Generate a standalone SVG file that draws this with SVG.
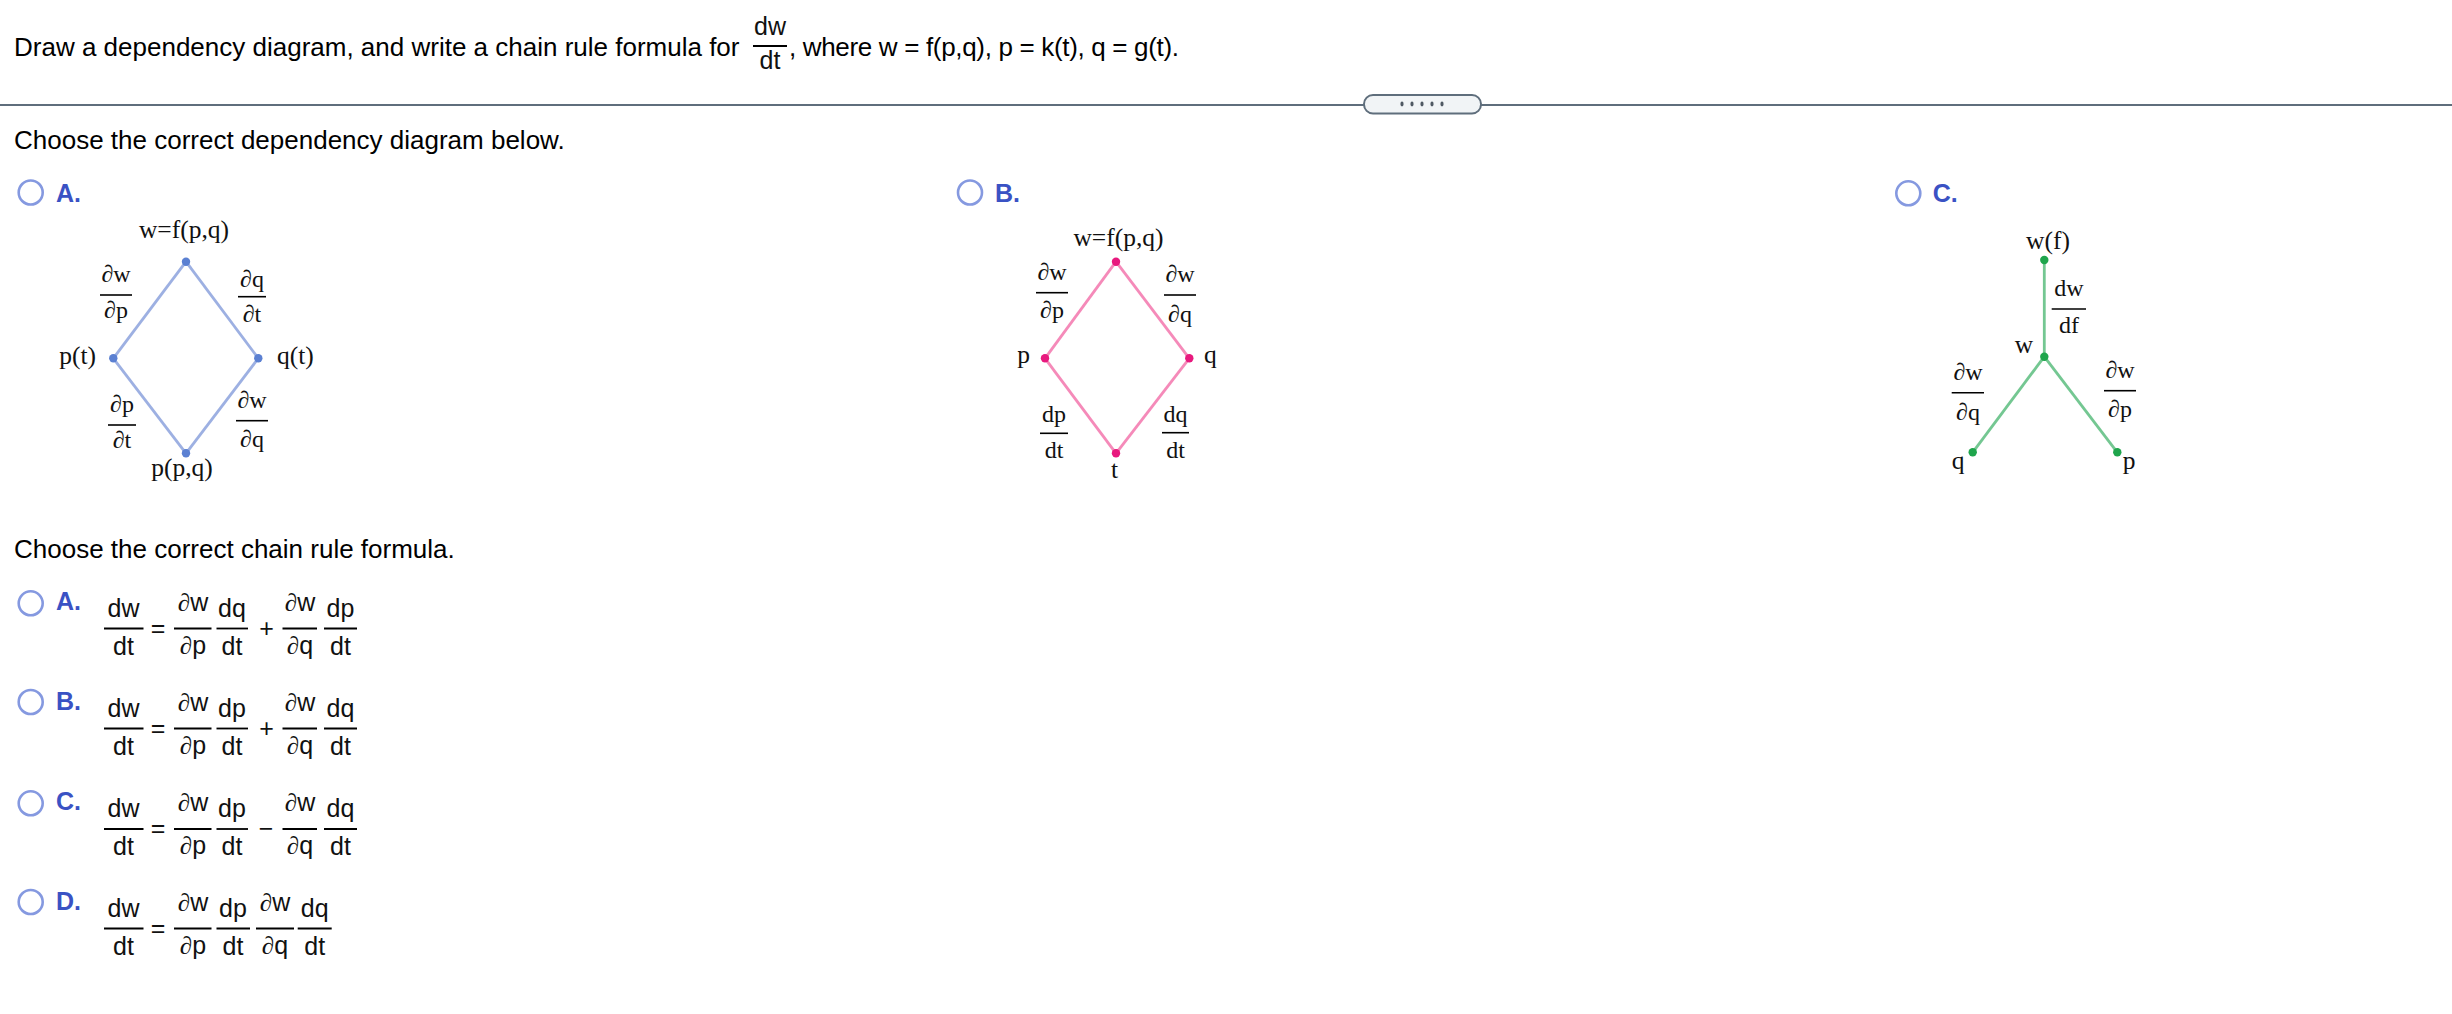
<svg xmlns="http://www.w3.org/2000/svg" width="2452" height="1014" viewBox="0 0 2452 1014">
<style>
.q{font-family:"Liberation Sans",Arial,sans-serif;font-size:26px;fill:#000}
.f{font-family:"Liberation Sans",Arial,sans-serif;font-size:25px;fill:#111;text-anchor:middle}
.pd{font-family:"Liberation Serif","DejaVu Serif",serif;font-style:italic}
.lab{font-family:"Liberation Sans",Arial,sans-serif;font-size:25px;font-weight:bold;fill:#3a52c4}
.radio{fill:#fff;stroke:#8599e0;stroke-width:2.6}
.s{font-family:"Liberation Serif","Times New Roman",serif;font-size:25.5px;fill:#111}
.sm{font-family:"Liberation Serif","Times New Roman",serif;font-size:24px;fill:#111;text-anchor:middle}
.bar{stroke:#000;stroke-width:1.8}
.sbar{stroke:#000;stroke-width:1.6}
.eA{stroke:#9db0e2;stroke-width:2.8;fill:none}
.nA{fill:#5b80d2}
.eB{stroke:#f58ab9;stroke-width:2.8;fill:none}
.nB{fill:#e8197e}
.eC{stroke:#74c792;stroke-width:2.8;fill:none}
.nC{fill:#1fa54c}
</style>

<!-- Question header -->
<g id="question">
  <text class="q" x="14" y="56">Draw a dependency diagram, and write a chain rule formula for</text>
  <text class="f" x="770" y="35">dw</text>
  <line class="bar" x1="753" y1="46" x2="787" y2="46"/>
  <text class="f" x="770" y="69">dt</text>
  <text class="q" x="789" y="56" textLength="390">, where w = f(p,q), p = k(t), q = g(t).</text>
</g>

<g id="separator">
  <line x1="0" y1="105" x2="2452" y2="105" stroke="#5f6e7c" stroke-width="2"/>
  <rect x="1364" y="95" width="117" height="18.5" rx="9" ry="9" fill="#f1f4f6" stroke="#5f6e7c" stroke-width="2"/>
  <g fill="#4f5963">
    <ellipse cx="1402" cy="104" rx="1.6" ry="2.4"/>
    <ellipse cx="1412" cy="104" rx="1.6" ry="2.4"/>
    <ellipse cx="1422" cy="104" rx="1.6" ry="2.4"/>
    <ellipse cx="1432" cy="104" rx="1.6" ry="2.4"/>
    <ellipse cx="1442" cy="104" rx="1.6" ry="2.4"/>
  </g>
</g>

<text class="q" x="14" y="149">Choose the correct dependency diagram below.</text>

<!-- Diagram option A -->
<g id="diagramA">
  <circle class="radio" cx="30.7" cy="192.5" r="12"/>
  <text class="lab" x="56" y="201.5">A.</text>
  <g id="A-connectors">
    <line class="eA" x1="186" y1="261.7" x2="113.3" y2="358.3"/>
    <line class="eA" x1="186" y1="261.7" x2="258.3" y2="358.3"/>
    <line class="eA" x1="113.3" y1="358.3" x2="186" y2="453.3"/>
    <line class="eA" x1="258.3" y1="358.3" x2="186" y2="453.3"/>
  </g>
  <g id="A-top"><circle class="nA" cx="186" cy="261.7" r="4.2"/><text class="s" x="184" y="238" text-anchor="middle">w=f(p,q)</text></g>
  <g id="A-left"><circle class="nA" cx="113.3" cy="358.3" r="4.2"/><text class="s" x="96" y="364" text-anchor="end">p(t)</text></g>
  <g id="A-right"><circle class="nA" cx="258.3" cy="358.3" r="4.2"/><text class="s" x="277" y="364">q(t)</text></g>
  <g id="A-bottom"><circle class="nA" cx="186" cy="453.3" r="4.2"/><text class="s" x="182" y="476" text-anchor="middle">p(p,q)</text></g>
  <g id="A-labels">
    <text class="sm" x="116" y="282">∂w</text><line class="sbar" x1="100" y1="295" x2="132" y2="295"/><text class="sm" x="116" y="318">∂p</text>
    <text class="sm" x="252" y="287">∂q</text><line class="sbar" x1="238" y1="296.7" x2="266" y2="296.7"/><text class="sm" x="252" y="322">∂t</text>
    <text class="sm" x="122" y="412">∂p</text><line class="sbar" x1="108" y1="425" x2="136" y2="425"/><text class="sm" x="122" y="448">∂t</text>
    <text class="sm" x="252" y="408">∂w</text><line class="sbar" x1="236" y1="420.7" x2="268" y2="420.7"/><text class="sm" x="252" y="447">∂q</text>
  </g>
</g>

<!-- Diagram option B -->
<g id="diagramB">
  <circle class="radio" cx="970" cy="192.5" r="12"/>
  <text class="lab" x="995" y="201.5">B.</text>
  <g id="B-connectors">
    <line class="eB" x1="1116" y1="261.7" x2="1045" y2="358.3"/>
    <line class="eB" x1="1116" y1="261.7" x2="1189.3" y2="358.3"/>
    <line class="eB" x1="1045" y1="358.3" x2="1116" y2="453.3"/>
    <line class="eB" x1="1189.3" y1="358.3" x2="1116" y2="453.3"/>
  </g>
  <g id="B-top"><circle class="nB" cx="1116" cy="261.7" r="4.2"/><text class="s" x="1118.5" y="246" text-anchor="middle">w=f(p,q)</text></g>
  <g id="B-left"><circle class="nB" cx="1045" cy="358.3" r="4.2"/><text class="s" x="1030" y="363" text-anchor="end">p</text></g>
  <g id="B-right"><circle class="nB" cx="1189.3" cy="358.3" r="4.2"/><text class="s" x="1204" y="363">q</text></g>
  <g id="B-bottom"><circle class="nB" cx="1116" cy="453.3" r="4.2"/><text class="s" x="1114.5" y="478" text-anchor="middle">t</text></g>
  <g id="B-labels">
    <text class="sm" x="1052" y="280">∂w</text><line class="sbar" x1="1036" y1="292.7" x2="1068" y2="292.7"/><text class="sm" x="1052" y="318">∂p</text>
    <text class="sm" x="1180" y="282">∂w</text><line class="sbar" x1="1164" y1="295" x2="1196" y2="295"/><text class="sm" x="1180" y="322">∂q</text>
    <text class="sm" x="1054" y="422">dp</text><line class="sbar" x1="1040" y1="433.3" x2="1068" y2="433.3"/><text class="sm" x="1054" y="458">dt</text>
    <text class="sm" x="1175.5" y="422">dq</text><line class="sbar" x1="1162" y1="432.7" x2="1189" y2="432.7"/><text class="sm" x="1175.5" y="458">dt</text>
  </g>
</g>

<!-- Diagram option C -->
<g id="diagramC">
  <circle class="radio" cx="1908.3" cy="193.3" r="12"/>
  <text class="lab" x="1932.7" y="201.5">C.</text>
  <g id="C-connectors">
    <line class="eC" x1="2044.3" y1="260" x2="2044.3" y2="356.7"/>
    <line class="eC" x1="2044.3" y1="356.7" x2="1972.7" y2="452.3"/>
    <line class="eC" x1="2044.3" y1="356.7" x2="2117.3" y2="452.3"/>
  </g>
  <g id="C-top"><circle class="nC" cx="2044.3" cy="260" r="4.2"/><text class="s" x="2048" y="249" text-anchor="middle">w(f)</text></g>
  <g id="C-mid"><circle class="nC" cx="2044.3" cy="356.7" r="4.2"/><text class="s" x="2024" y="353" text-anchor="middle">w</text></g>
  <g id="C-left"><circle class="nC" cx="1972.7" cy="452.3" r="4.2"/><text class="s" x="1958" y="469" text-anchor="middle">q</text></g>
  <g id="C-right"><circle class="nC" cx="2117.3" cy="452.3" r="4.2"/><text class="s" x="2129" y="469" text-anchor="middle">p</text></g>
  <g id="C-labels">
    <text class="sm" x="2069" y="296">dw</text><line class="sbar" x1="2051.7" y1="309" x2="2086" y2="309"/><text class="sm" x="2069" y="333">df</text>
    <text class="sm" x="1968" y="380">∂w</text><line class="sbar" x1="1951.7" y1="392.7" x2="1984" y2="392.7"/><text class="sm" x="1968" y="420">∂q</text>
    <text class="sm" x="2120" y="378">∂w</text><line class="sbar" x1="2104" y1="390.7" x2="2136" y2="390.7"/><text class="sm" x="2120" y="417">∂p</text>
  </g>
</g>

<text class="q" x="14" y="558">Choose the correct chain rule formula.</text>

<!-- Formula option A -->
<g id="formulaA">
  <circle class="radio" cx="30.7" cy="603.3" r="12"/>
  <text class="lab" x="56" y="610">A.</text>
  <text class="f" x="123.5" y="617">dw</text><line class="bar" x1="104" y1="628.5" x2="143.5" y2="628.5"/><text class="f" x="123.5" y="655">dt</text>
  <text class="f" x="158" y="637">=</text>
  <text class="f" x="193" y="611"><tspan class="pd">∂</tspan>w</text><line class="bar" x1="174" y1="628.5" x2="211.5" y2="628.5"/><text class="f" x="193" y="654"><tspan class="pd">∂</tspan>p</text>
  <text class="f" x="232" y="617">dq</text><line class="bar" x1="216.5" y1="628.5" x2="248" y2="628.5"/><text class="f" x="232" y="655">dt</text>
  <text class="f" x="266.5" y="637">+</text>
  <text class="f" x="300" y="611"><tspan class="pd">∂</tspan>w</text><line class="bar" x1="282.5" y1="628.5" x2="317" y2="628.5"/><text class="f" x="300" y="654"><tspan class="pd">∂</tspan>q</text>
  <text class="f" x="340.5" y="617">dp</text><line class="bar" x1="324" y1="628.5" x2="357" y2="628.5"/><text class="f" x="340.5" y="655">dt</text>
</g>

<!-- Formula option B -->
<g id="formulaB">
  <circle class="radio" cx="30.7" cy="702" r="12"/>
  <text class="lab" x="56" y="710">B.</text>
  <text class="f" x="123.5" y="717">dw</text><line class="bar" x1="104" y1="728.5" x2="143.5" y2="728.5"/><text class="f" x="123.5" y="755">dt</text>
  <text class="f" x="158" y="737">=</text>
  <text class="f" x="193" y="711"><tspan class="pd">∂</tspan>w</text><line class="bar" x1="174" y1="728.5" x2="211.5" y2="728.5"/><text class="f" x="193" y="754"><tspan class="pd">∂</tspan>p</text>
  <text class="f" x="232" y="717">dp</text><line class="bar" x1="216.5" y1="728.5" x2="248" y2="728.5"/><text class="f" x="232" y="755">dt</text>
  <text class="f" x="266.5" y="737">+</text>
  <text class="f" x="300" y="711"><tspan class="pd">∂</tspan>w</text><line class="bar" x1="282.5" y1="728.5" x2="317" y2="728.5"/><text class="f" x="300" y="754"><tspan class="pd">∂</tspan>q</text>
  <text class="f" x="340.5" y="717">dq</text><line class="bar" x1="324" y1="728.5" x2="357" y2="728.5"/><text class="f" x="340.5" y="755">dt</text>
</g>

<!-- Formula option C -->
<g id="formulaC">
  <circle class="radio" cx="30.7" cy="803.3" r="12"/>
  <text class="lab" x="56" y="810">C.</text>
  <text class="f" x="123.5" y="817">dw</text><line class="bar" x1="104" y1="829" x2="143.5" y2="829"/><text class="f" x="123.5" y="855">dt</text>
  <text class="f" x="158" y="837">=</text>
  <text class="f" x="193" y="811"><tspan class="pd">∂</tspan>w</text><line class="bar" x1="174" y1="829" x2="211.5" y2="829"/><text class="f" x="193" y="854"><tspan class="pd">∂</tspan>p</text>
  <text class="f" x="232" y="817">dp</text><line class="bar" x1="216.5" y1="829" x2="248" y2="829"/><text class="f" x="232" y="855">dt</text>
  <text class="f" x="266" y="837">−</text>
  <text class="f" x="300" y="811"><tspan class="pd">∂</tspan>w</text><line class="bar" x1="282.5" y1="829" x2="317" y2="829"/><text class="f" x="300" y="854"><tspan class="pd">∂</tspan>q</text>
  <text class="f" x="340.5" y="817">dq</text><line class="bar" x1="324" y1="829" x2="357" y2="829"/><text class="f" x="340.5" y="855">dt</text>
</g>

<!-- Formula option D -->
<g id="formulaD">
  <circle class="radio" cx="30.7" cy="902" r="12"/>
  <text class="lab" x="56" y="910">D.</text>
  <text class="f" x="123.5" y="917">dw</text><line class="bar" x1="104" y1="928.5" x2="143.5" y2="928.5"/><text class="f" x="123.5" y="955">dt</text>
  <text class="f" x="158" y="937">=</text>
  <text class="f" x="193" y="911"><tspan class="pd">∂</tspan>w</text><line class="bar" x1="174" y1="928.5" x2="211.5" y2="928.5"/><text class="f" x="193" y="954"><tspan class="pd">∂</tspan>p</text>
  <text class="f" x="233" y="917">dp</text><line class="bar" x1="216.5" y1="928.5" x2="250" y2="928.5"/><text class="f" x="233" y="955">dt</text>
  <text class="f" x="275" y="911"><tspan class="pd">∂</tspan>w</text><line class="bar" x1="256" y1="928.5" x2="294" y2="928.5"/><text class="f" x="275" y="954"><tspan class="pd">∂</tspan>q</text>
  <text class="f" x="314.7" y="917">dq</text><line class="bar" x1="297.7" y1="928.5" x2="331.7" y2="928.5"/><text class="f" x="314.7" y="955">dt</text>
</g>
</svg>
